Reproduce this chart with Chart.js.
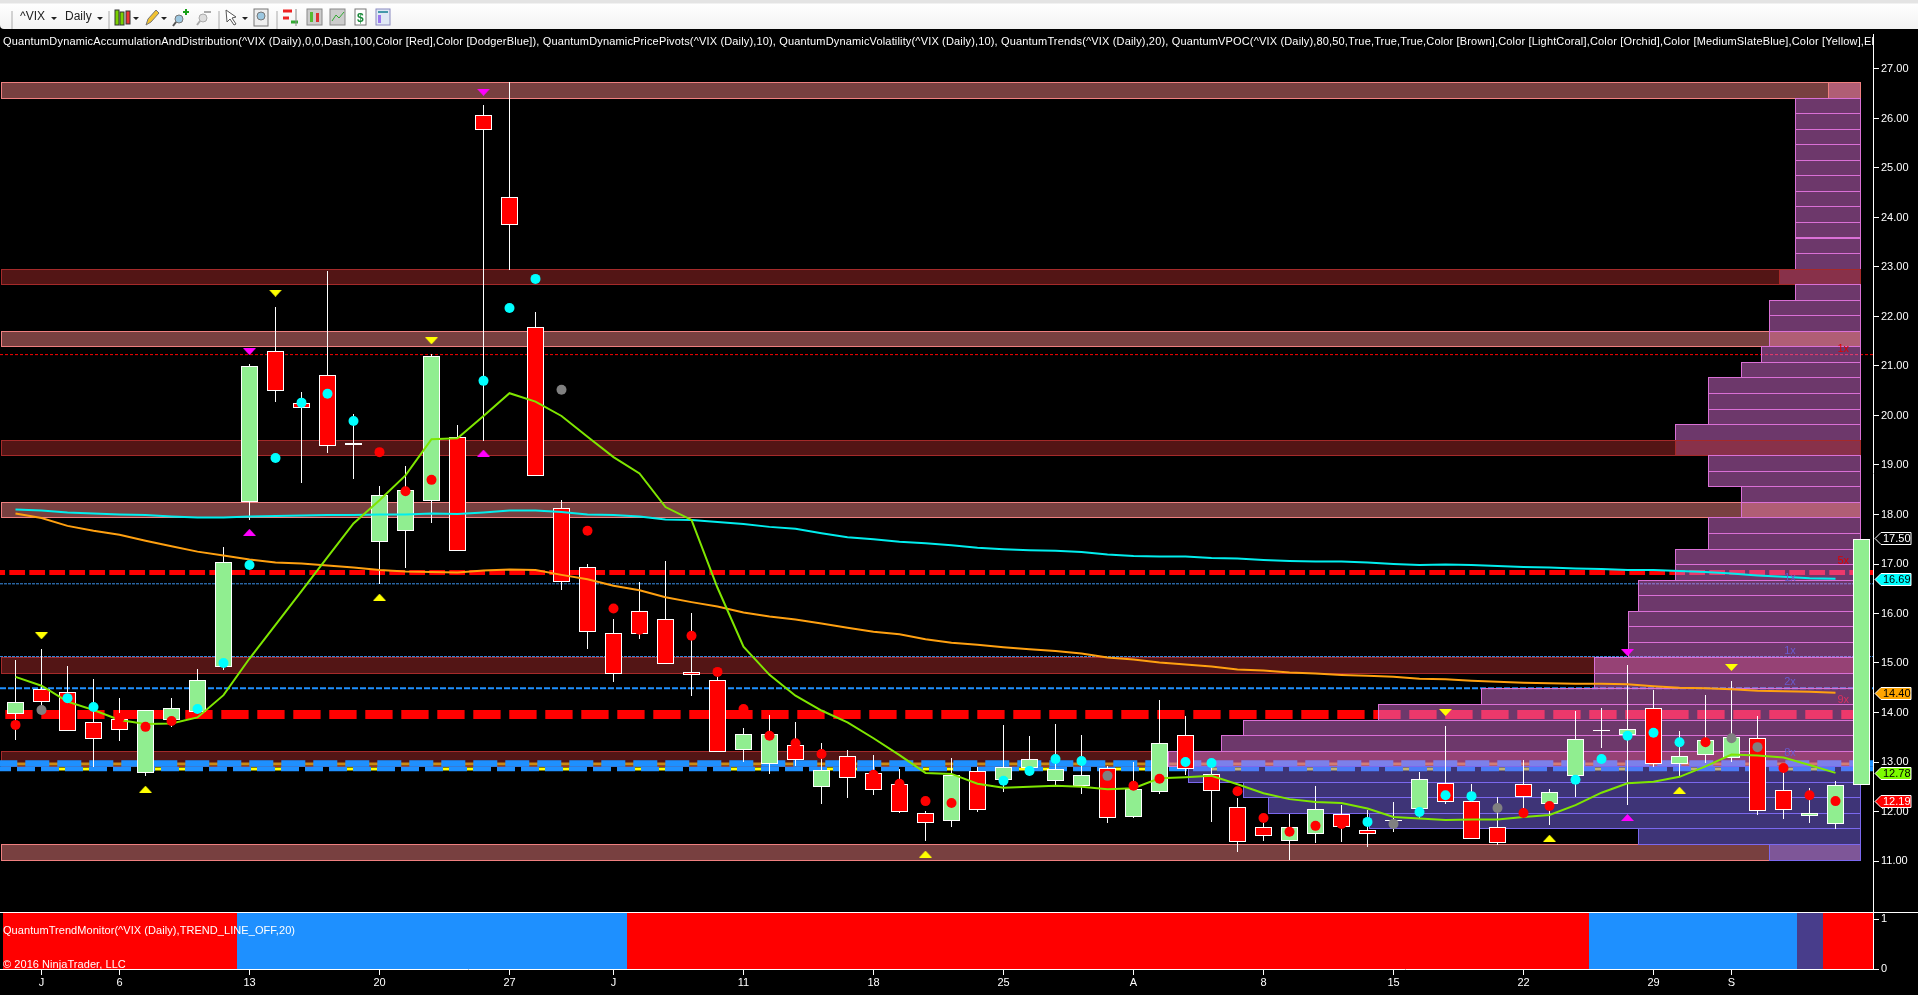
<!DOCTYPE html>
<html>
<head>
<meta charset="utf-8">
<title>^VIX Daily</title>
<script src="https://cdn.jsdelivr.net/npm/chart.js@4"></script>
<style>
    html, body { margin: 0; padding: 0; background: #000; overflow: hidden; }
    body { width: 1918px; height: 995px; position: relative; font-family: "Liberation Sans", Arial, sans-serif; }
    canvas { position: absolute; left: 0; }
    #priceChart { top: 0; }
    #monitorChart { top: 913px; }
    .txt { position: absolute; color: #fff; font-size: 11px; line-height: 14px; white-space: nowrap; letter-spacing: 0.06px; }
    #toolbar { position: absolute; left: 0; top: 0; width: 1918px; height: 29px; background: linear-gradient(#e4e4e4 0, #e4e4e4 3px, #fff 4px, #f2f2f2 29px); border-bottom-left-radius: 4px; }
    #rule { position: absolute; left: 0; top: 912px; width: 1918px; height: 1px; background: #fff; }
</style>
</head>
<body>
<canvas id="priceChart" width="1918" height="913"></canvas>
<canvas id="monitorChart" width="1918" height="82"></canvas>
<div id="rule"></div>

<div id="toolbar">
    <svg width="420" height="29" style="position:absolute;left:0;top:0">
        <g fill="#222" font-family="Liberation Sans" font-size="12">
            <text x="20" y="20">^VIX</text>
            <text x="65" y="20">Daily</text>
            <path d="M51 17h6l-3 3zM97 17h6l-3 3zM133 17h6l-3 3zM161 17h6l-3 3zM242 17h6l-3 3z"/>
        </g>
        <g stroke="#aaa"><path d="M12 11v18M109 11v18M219 11v18M277 11v18"/></g>
        <rect x="115" y="10" width="4" height="15" fill="#7ad000" stroke="#333"/>
        <rect x="120" y="12" width="4" height="13" fill="#7ad000" stroke="#333"/>
        <rect x="126" y="11" width="4" height="13" fill="#e33" stroke="#333"/>
        <path d="M146 25l2-6 8-9 3 3-8 9z" fill="#f2c230" stroke="#777"/>
        <circle cx="179" cy="19" r="4" fill="#9cc7e0" stroke="#777"/><path d="M176 22l-3 4" stroke="#555" stroke-width="2"/><path d="M186 9v6M183 12h6" stroke="#18a018" stroke-width="2"/>
        <circle cx="203" cy="18" r="4" fill="#ddd" stroke="#aaa"/><path d="M200 21l-3 4" stroke="#aaa" stroke-width="2"/><path d="M204 12h7" stroke="#aaa" stroke-width="2"/>
        <path d="M226 10l10 7-4 1 4 6-2 1-4-6-3 3z" fill="#fff" stroke="#555"/>
        <rect x="254" y="9" width="14" height="17" fill="#eee" stroke="#777"/><circle cx="261" cy="16" r="4" fill="#9cc7e0" stroke="#777"/>
        <path d="M283 11h9M283 18h6" stroke="#e22" stroke-width="3"/><path d="M291 22h7" stroke="#3a3" stroke-width="3"/><path d="M296 9v17" stroke="#888"/>
        <rect x="307" y="9" width="15" height="16" fill="#ccc" stroke="#888"/><rect x="310" y="12" width="3" height="10" fill="#5b3"/><rect x="316" y="13" width="3" height="9" fill="#d33"/>
        <rect x="330" y="9" width="15" height="16" fill="#ccc" stroke="#888"/><path d="M332 21l4-6 3 3 5-6" fill="none" stroke="#3a3"/>
        <rect x="355" y="9" width="11" height="16" fill="#fff" stroke="#777"/><text x="357" y="22" font-size="12" font-weight="bold" fill="#1a8a3a" font-family="Liberation Sans">$</text>
        <rect x="376" y="9" width="14" height="16" fill="#dfe8f4" stroke="#8a8ac0"/><rect x="378" y="11" width="10" height="2" fill="#49a"/><rect x="378" y="15" width="3" height="8" fill="#97e"/>
    </svg>
</div>

<div class="txt" style="left:3px;top:34px;width:1870px;overflow:hidden;letter-spacing:0.16px">QuantumDynamicAccumulationAndDistribution(^VIX (Daily),0,0,Dash,100,Color [Red],Color [DodgerBlue]), QuantumDynamicPricePivots(^VIX (Daily),10), QuantumDynamicVolatility(^VIX (Daily),10), QuantumTrends(^VIX (Daily),20), QuantumVPOC(^VIX (Daily),80,50,True,True,True,Color [Brown],Color [LightCoral],Color [Orchid],Color [MediumSlateBlue],Color [Yellow],El</div>
<div class="txt" style="left:3px;top:923px">QuantumTrendMonitor(^VIX (Daily),TREND_LINE_OFF,20)</div>
<div class="txt" style="left:3px;top:957px">© 2016 NinjaTrader, LLC</div>

<script>
// candles, one entry per trading day
const opens  = [13.96,14.47,14.42,13.80,13.86,12.78,13.85,14.02,14.91,18.25,21.30,20.26,20.81,19.44,17.44,17.67,18.28,19.56,26.08,24.41,21.79,18.14,16.93,15.60,16.06,15.88,14.81,14.65,13.25,12.95,13.34,12.50,13.13,12.77,12.55,11.96,11.81,12.81,12.64,12.88,12.62,12.51,12.87,11.89,12.40,13.54,12.75,12.10,11.68,11.41,11.55,11.94,11.62,11.83,12.06,12.58,12.21,11.68,12.55,12.16,12.71,13.65,13.55,14.10,12.95,13.15,13.09,13.48,12.43,11.90,11.75,12.53];
const highs  = [15.06,15.28,14.94,14.68,14.29,14.06,14.29,14.88,17.34,21.04,22.19,20.47,22.92,20.04,18.58,18.98,21.24,19.81,26.27,26.74,22.09,18.29,17.00,15.89,16.64,17.06,16.00,14.72,13.69,13.95,13.81,13.38,13.24,13.14,12.85,12.00,13.08,12.89,13.75,13.53,13.76,13.55,12.92,13.00,14.25,13.93,12.98,12.27,11.77,11.95,12.52,12.13,12.03,12.19,12.79,13.73,12.55,12.29,13.04,12.45,14.03,14.10,14.96,14.45,13.63,14.35,14.64,13.93,12.98,12.47,12.62,17.50];
const lows   = [13.44,14.13,13.63,12.90,13.43,12.72,13.71,14.02,14.86,17.89,20.28,18.64,19.25,18.72,16.60,16.92,17.83,17.27,19.49,22.94,18.77,16.47,15.28,14.62,15.49,14.97,14.34,13.21,13.00,12.76,12.92,12.16,12.28,12.33,11.96,11.41,11.69,11.98,12.40,12.88,12.50,12.35,11.77,11.87,12.35,12.74,11.79,11.19,11.41,11.03,11.36,11.38,11.29,11.59,11.87,12.15,11.44,11.32,11.96,11.73,12.30,13.28,12.13,12.90,12.70,12.98,13.00,11.92,11.85,11.77,11.65,12.53];
const closes = [14.21,14.22,13.63,13.47,13.65,14.06,14.10,14.65,17.05,20.99,20.50,20.16,19.39,19.41,18.39,18.49,21.20,17.27,25.77,23.85,18.77,16.64,15.63,14.78,15.59,14.97,14.76,13.21,13.56,13.56,13.05,12.83,12.68,12.44,11.98,11.77,12.74,12.04,12.89,13.07,12.85,12.73,11.87,12.45,13.38,12.86,12.42,11.39,11.51,11.68,12.06,11.69,11.55,11.80,12.65,12.20,11.44,11.36,12.29,12.39,13.46,13.62,13.66,12.95,13.13,13.44,13.50,12.00,12.04,11.96,12.53,17.50];

// trend lines, one value per day up to the last closed bar
const greenTrend  = [14.72,14.54,14.22,14.05,13.85,13.77,13.78,13.90,14.35,15.09,15.77,16.45,17.14,17.82,18.29,18.79,19.52,19.54,19.99,20.45,20.28,19.99,19.57,19.16,18.83,18.15,17.89,16.52,15.33,14.76,14.34,14.04,13.80,13.48,13.14,12.78,12.76,12.56,12.48,12.50,12.52,12.50,12.45,12.47,12.67,12.69,12.72,12.55,12.37,12.25,12.19,12.17,12.06,11.89,11.86,11.83,11.84,11.84,11.89,11.93,12.13,12.38,12.57,12.60,12.70,12.91,13.15,13.13,13.09,12.94,12.78];
const cyanTrend   = [18.10,18.08,18.04,18.02,18.00,17.99,17.96,17.94,17.94,17.96,17.97,17.98,17.99,17.99,18.00,18.00,18.02,18.01,18.04,18.08,18.08,18.05,18.00,17.99,17.96,17.90,17.89,17.85,17.81,17.75,17.71,17.62,17.54,17.50,17.45,17.42,17.38,17.33,17.30,17.28,17.27,17.24,17.19,17.16,17.15,17.15,17.12,17.11,17.08,17.06,17.05,17.05,17.03,17.00,16.98,16.99,16.98,16.96,16.94,16.93,16.91,16.90,16.88,16.88,16.86,16.84,16.81,16.77,16.74,16.71,16.70];
const orangeTrend = [18.02,17.93,17.77,17.67,17.59,17.47,17.36,17.25,17.17,17.09,17.03,17.01,16.97,16.93,16.88,16.85,16.84,16.83,16.87,16.89,16.88,16.78,16.69,16.56,16.47,16.33,16.23,16.14,16.02,15.94,15.88,15.80,15.71,15.63,15.58,15.48,15.41,15.37,15.32,15.28,15.24,15.19,15.11,15.07,15.01,14.97,14.93,14.87,14.85,14.81,14.79,14.76,14.74,14.72,14.68,14.67,14.64,14.62,14.60,14.59,14.58,14.58,14.57,14.53,14.50,14.49,14.47,14.44,14.43,14.42,14.40];

// pivot dots as [day, price]
const cyanDots = [[2,14.29],[3,14.11],[7,14.07],[8,15.00],[9,16.98],[10,19.14],[11,20.26],[12,20.44],[13,19.89],[18,20.70],[19,22.17],[20,22.76],[38,12.62],[39,12.82],[40,13.06],[41,13.02],[45,13.00],[46,12.98],[52,11.79],[54,11.99],[55,12.33],[56,12.31],[60,12.64],[61,13.06],[62,13.53],[63,13.59],[64,13.40]];
const redDots  = [[0,13.75],[4,13.89],[5,13.71],[6,13.83],[14,19.26],[15,18.47],[16,18.70],[22,17.67],[23,16.10],[24,15.67],[26,15.55],[27,14.82],[28,14.07],[29,13.53],[30,13.38],[31,13.16],[33,12.74],[34,12.56],[35,12.21],[36,12.17],[43,12.52],[44,12.66],[47,12.41],[48,11.87],[49,11.59],[50,11.71],[51,11.75],[58,11.97],[59,12.11],[65,13.40],[68,12.88],[69,12.33],[70,12.21]];
const grayDots = [[1,14.05],[21,20.52],[42,12.72],[53,11.75],[57,12.07],[66,13.48],[67,13.30]];

// triangle markers as [day, price]
const yellowDown  = [[1,15.55],[10,22.47],[16,21.51],[55,14.00],[66,14.91]];
const yellowUp    = [[5,12.45],[14,16.33],[35,11.14],[59,11.46],[64,12.43]];
const magentaDown = [[9,21.29],[18,26.53],[62,15.21]];
const magentaUp   = [[9,17.64],[18,19.24],[62,11.88]];

// volume profile, 50 rows from the top
const binPrices = [26.580,26.266,25.952,25.638,25.324,25.010,24.695,24.381,24.067,23.753,23.439,23.125,22.811,22.496,22.182,21.868,21.554,21.240,20.926,20.612,20.297,19.983,19.669,19.355,19.041,18.727,18.412,18.098,17.784,17.470,17.156,16.842,16.528,16.213,15.899,15.585,15.271,14.957,14.643,14.329,14.014,13.700,13.386,13.072,12.758,12.444,12.130,11.815,11.501,11.187];
const binVolumes = [1.27,2.54,2.54,2.54,2.54,2.54,2.54,2.54,2.54,2.54,2.54,2.54,3.19,2.54,3.54,3.54,3.54,3.85,4.65,5.92,5.92,5.92,7.19,7.19,5.92,5.92,4.65,4.65,5.92,5.92,7.19,7.19,8.58,8.58,9.00,9.00,9.00,10.27,10.27,14.62,18.58,23.77,24.62,26.69,25.92,23.77,22.81,18.96,8.58,3.54];
const coralBands = [26.580,21.554,18.098,11.187];
const brownBands = [22.811,19.355,14.957,13.072];

// horizontal accumulation/distribution levels
const thinRedLevel = [21.23];
const thickRedLevels = [16.83,13.96];
const thinBlueLevels = [16.60,15.13];
const midBlueLevel = [14.49];
const zoneLevels = [12.97,12.96,12.86,12.86];

const priceTicks = [11,12,13,14,15,16,17,18,19,20,21,22,23,24,25,26,27];
const dayTicks   = [1,4,9,14,19,23,28,33,38,43,48,53,58,63,66];
const dayLabels  = ['J','6','13','20','27','J','11','18','25','A','8','15','22','29','S'];

// monitor strip: 1 red, 2 blue, 3 slate
const monitorStates = [1,1,1,1,1,1,1,1,1,2,2,2,2,2,2,2,2,2,2,2,2,2,2,2,1,1,1,1,1,1,1,1,1,1,1,1,1,1,1,1,1,1,1,1,1,1,1,1,1,1,1,1,1,1,1,1,1,1,1,1,1,2,2,2,2,2,2,2,2,3,1,1];

// right axis flags
const flagValues = [17.52,16.69,14.40,12.78,12.21];
const flagTexts  = ['17.50','16.69','14.40','12.78','12.19'];
const flagFills  = ['#000','#00ffff','#ffa500','#7cfc00','#ff0000'];
const flagInks   = ['#fff','#000','#000','#000','#fff'];

// small "Nx" counters beside the profile
const countTexts  = ['1x','5x','9x','1x','1x','2x','8x'];
const countDays   = [70.3,70.3,70.3,68.25,68.25,68.25,68.25];
const countPrices = [21.34,17.06,14.25,16.72,15.24,14.62,13.18];
const countInks   = ['#e00000','#e00000','#d8305f','#6a5acd','#6a5acd','#6a5acd','#6a5acd'];

const FONT = '"Liberation Sans", Arial, sans-serif';
const days = opens.map((o, i) => i);
const pad = 1873 / 26;
const xMin = -15.5 / 26;
const xMax = xMin + pad;
const PROFILE_END = 71;
const BAND_START = xMin + 1 / 26;

function pairs(list) {
    return list.map(p => ({ x: p[0], y: p[1] }));
}

function flatTriangle(color, down) {
    const c = document.createElement('canvas');
    c.width = 13;
    c.height = 7;
    const g = c.getContext('2d');
    g.fillStyle = color;
    g.beginPath();
    if (down) {
        g.moveTo(0, 0); g.lineTo(13, 0); g.lineTo(6.5, 7);
    } else {
        g.moveTo(0, 7); g.lineTo(13, 7); g.lineTo(6.5, 0);
    }
    g.fill();
    return c;
}

function levelLine(price, color, width, dash, offset, order) {
    return {
        type: 'line',
        data: [{ x: xMin, y: price }, { x: xMax, y: price }],
        borderColor: color,
        borderWidth: width,
        borderDash: dash,
        borderDashOffset: offset,
        pointRadius: 0,
        order: order
    };
}

function trendLine(values, color, order) {
    return {
        type: 'line',
        data: values.map((v, i) => ({ x: i, y: v })),
        borderColor: color,
        borderWidth: 2,
        tension: 0,
        pointRadius: 0,
        order: order
    };
}

function dotSet(list, color, order) {
    return {
        type: 'line',
        data: pairs(list),
        showLine: false,
        pointRadius: 5,
        pointBorderWidth: 0,
        pointBackgroundColor: color,
        order: order
    };
}

function markerSet(list, color, down) {
    return {
        type: 'line',
        data: pairs(list),
        showLine: false,
        pointRadius: 6,
        pointStyle: flatTriangle(color, down),
        order: 1
    };
}

const barBase = {
    type: 'bar',
    grouped: false,
    barPercentage: 1,
    categoryPercentage: 1,
    inflateAmount: 0,
    borderSkipped: false
};

// the profile rows that sit on a band get their own tint
function binFill(i) {
    if (i === binPrices.length - 1) return 'rgba(132,108,240,0.5)';
    if (coralBands.includes(binPrices[i])) return 'rgba(232,124,170,0.5)';
    if (i === 12 || i === 23) return 'rgba(190,77,127,0.5)';
    return i >= 44 ? 'rgba(123,104,238,0.5)' : 'rgba(218,112,214,0.5)';
}

function binEdge(i) {
    if (i === 0) return '#f08080';
    if (i === 12 || i === 23) return '#a52a2a';
    return i >= 44 ? '#7b68ee' : '#da70d6';
}

const priceDatasets = [
    markerSet(yellowDown, '#ffff00', true),
    markerSet(yellowUp, '#ffff00', false),
    markerSet(magentaDown, '#ff00ff', true),
    markerSet(magentaUp, '#ff00ff', false),
    dotSet(cyanDots, '#00ffff', 2),
    dotSet(redDots, '#ff0000', 2),
    dotSet(grayDots, '#808080', 2),
    trendLine(greenTrend, '#7fe600', 3),
    trendLine(cyanTrend, '#00eeee', 3),
    trendLine(orangeTrend, '#ffa010', 3),
    Object.assign({}, barBase, {
        data: days.map(i => ({ x: i, y: [opens[i], closes[i]] })),
        backgroundColor: days.map(i => closes[i] >= opens[i] ? '#90ee90' : '#ff0000'),
        borderColor: '#fff',
        borderWidth: 1,
        barThickness: 17,
        order: 4
    }),
    Object.assign({}, barBase, {
        data: days.map(i => ({ x: i, y: [lows[i], highs[i]] })),
        backgroundColor: '#fff',
        borderWidth: 0,
        barThickness: 1,
        order: 5
    }),
    Object.assign({}, barBase, {
        indexAxis: 'y',
        data: binPrices.map((p, i) => ({ y: p, x: [PROFILE_END - binVolumes[i], PROFILE_END] })),
        backgroundColor: binPrices.map((p, i) => binFill(i)),
        borderColor: binPrices.map((p, i) => binEdge(i)),
        borderWidth: 1,
        barThickness: 15.55,
        order: 6
    }),
    levelLine(thinRedLevel[0], '#ff0000', 1, [3, 2], 0, 7),
    levelLine(thickRedLevels[0], '#ff0000', 5, [15.7, 4.3], 10.67, 7),
    levelLine(thickRedLevels[1], '#ff0000', 9, [27.3, 8.7], 30.7, 7),
    levelLine(thinBlueLevels[0], '#3a8fe8', 1, [3, 1], 0, 7),
    levelLine(thinBlueLevels[1], '#3a8fe8', 1, [3, 1], 0, 7),
    levelLine(midBlueLevel[0], '#1e90ff', 2, [6, 2], 0, 7),
    levelLine(zoneLevels[0], '#1e90ff', 6.4, [24, 8], 6.7, 7),
    levelLine(zoneLevels[2], '#1e90ff', 4.5, [18, 6], 7, 7.1),
    levelLine(zoneLevels[1], '#cc8a14', 3, [], 0, 7.2),
    levelLine(zoneLevels[3], '#ffff00', 3, [16, 16], 14, 7.3),
    Object.assign({}, barBase, {
        indexAxis: 'y',
        data: coralBands.map(p => ({ y: p, x: [BAND_START, PROFILE_END] })),
        backgroundColor: 'rgba(240,128,128,0.5)',
        borderColor: '#f08080',
        borderWidth: 1,
        barThickness: 15.55,
        order: 8
    }),
    Object.assign({}, barBase, {
        indexAxis: 'y',
        data: brownBands.map(p => ({ y: p, x: [BAND_START, PROFILE_END] })),
        backgroundColor: 'rgba(165,42,42,0.5)',
        borderColor: '#a52a2a',
        borderWidth: 1,
        barThickness: 15.55,
        order: 8
    })
];

// keep bar edges on whole pixels so the one pixel borders stay sharp
const snapBars = {
    id: 'snapBars',
    afterDatasetsUpdate(chart) {
        chart.getSortedVisibleDatasetMetas().forEach(meta => {
            if (meta.type !== 'bar') return;
            meta.data.forEach(el => {
                if (el.horizontal) {
                    const left = Math.round(Math.min(el.x, el.base));
                    const right = Math.round(Math.max(el.x, el.base));
                    const top = Math.round(el.y - el.height / 2);
                    const bottom = Math.round(el.y + el.height / 2) + 1;
                    el.base = left;
                    el.x = right;
                    el.y = (top + bottom) / 2;
                    el.height = bottom - top;
                } else {
                    const left = Math.round(el.x - el.width / 2);
                    const right = left + Math.round(el.width);
                    const top = Math.round(Math.min(el.y, el.base));
                    let bottom = Math.round(Math.max(el.y, el.base));
                    if (bottom === top) bottom = top + 1;
                    el.x = (left + right) / 2;
                    el.width = right - left;
                    el.y = top;
                    el.base = bottom;
                }
            });
        });
    }
};

// right axis flags and the Nx counters
const priceNotes = {
    id: 'priceNotes',
    afterDraw(chart) {
        const ctx = chart.ctx;
        const xs = chart.scales.x;
        const ys = chart.scales.y;
        ctx.save();
        ctx.font = '11px ' + FONT;
        ctx.textBaseline = 'middle';

        ctx.textAlign = 'center';
        countTexts.forEach((t, i) => {
            ctx.fillStyle = countInks[i];
            ctx.fillText(t, xs.getPixelForValue(countDays[i]), ys.getPixelForValue(countPrices[i]));
        });

        ctx.textAlign = 'left';
        flagValues.forEach((v, i) => {
            const y = Math.round(ys.getPixelForValue(v)) + 0.5;
            ctx.beginPath();
            ctx.moveTo(1875, y);
            ctx.lineTo(1881, y - 6);
            ctx.lineTo(1911, y - 6);
            ctx.lineTo(1911, y + 6);
            ctx.lineTo(1881, y + 6);
            ctx.closePath();
            ctx.fillStyle = flagFills[i];
            ctx.fill();
            ctx.strokeStyle = '#fff';
            ctx.lineWidth = 1;
            ctx.stroke();
            ctx.fillStyle = flagInks[i];
            ctx.fillText(flagTexts[i], 1883, y + 0.5);
        });
        ctx.restore();
    }
};

// the scales sit at fixed places, no room needed for the outer tick labels
function fixVertical(scale) {
    scale.width = 45;
    scale.paddingTop = 0;
    scale.paddingBottom = 0;
}

function fixHorizontal(scale) {
    scale.height = 26;
    scale.paddingLeft = 0;
    scale.paddingRight = 0;
}

const priceChart = new Chart(document.getElementById('priceChart').getContext('2d'), {
    type: 'bar',
    data: { datasets: priceDatasets },
    plugins: [snapBars, priceNotes],
    options: {
        responsive: false,
        animation: false,
        events: [],
        layout: { autoPadding: false, padding: { top: 34, bottom: 1 } },
        plugins: { legend: { display: false }, tooltip: { enabled: false } },
        scales: {
            x: {
                type: 'linear',
                display: false,
                offset: false,
                grid: { offset: false },
                min: xMin,
                max: xMax
            },
            y: {
                type: 'linear',
                position: 'right',
                offset: false,
                min: 11 - 51 / 49.5,
                max: 11 + 827 / 49.5,
                afterFit: fixVertical,
                afterBuildTicks(scale) { scale.ticks = priceTicks.map(v => ({ value: v })); },
                grid: {
                    offset: false,
                    drawOnChartArea: false,
                    color: '#fff',
                    tickColor: '#fff',
                    tickLength: 6
                },
                border: { display: true, color: '#fff' },
                ticks: {
                    autoSkip: false,
                    color: '#fff',
                    padding: 2,
                    font: { family: FONT, size: 11 },
                    callback: v => Number(v).toFixed(2)
                }
            }
        }
    }
});

const monitorColors = { 1: '#ff0000', 2: '#1e90ff', 3: '#483d8b' };

const monitorChart = new Chart(document.getElementById('monitorChart').getContext('2d'), {
    type: 'bar',
    data: {
        datasets: [Object.assign({}, barBase, {
            data: monitorStates.map((s, i) => ({ x: i, y: 1.12 })),
            backgroundColor: monitorStates.map(s => monitorColors[s]),
            borderWidth: 0,
            barThickness: 26
        })]
    },
    plugins: [snapBars],
    options: {
        responsive: false,
        animation: false,
        events: [],
        layout: { autoPadding: false, padding: 0 },
        plugins: { legend: { display: false }, tooltip: { enabled: false } },
        scales: {
            x: {
                type: 'linear',
                offset: false,
                min: xMin,
                max: xMax,
                afterFit: fixHorizontal,
                afterBuildTicks(scale) { scale.ticks = dayTicks.map(v => ({ value: v })); },
                grid: {
                    offset: false,
                    drawOnChartArea: false,
                    color: '#fff',
                    tickColor: '#fff',
                    tickLength: 6
                },
                border: { display: true, color: '#fff' },
                ticks: {
                    autoSkip: false,
                    maxRotation: 0,
                    color: '#fff',
                    padding: 1,
                    font: { family: FONT, size: 11 },
                    callback: v => dayLabels[dayTicks.indexOf(v)]
                }
            },
            y: {
                type: 'linear',
                position: 'right',
                min: 0,
                max: 1.12,
                afterFit: fixVertical,
                afterBuildTicks(scale) { scale.ticks = [{ value: 0 }, { value: 1 }]; },
                grid: {
                    drawOnChartArea: false,
                    color: '#fff',
                    tickColor: '#fff',
                    tickLength: 6
                },
                border: { display: true, color: '#fff' },
                ticks: {
                    autoSkip: false,
                    color: '#fff',
                    padding: 2,
                    font: { family: FONT, size: 11 },
                    callback: v => String(v)
                }
            }
        }
    }
});
</script>
</body>
</html>
